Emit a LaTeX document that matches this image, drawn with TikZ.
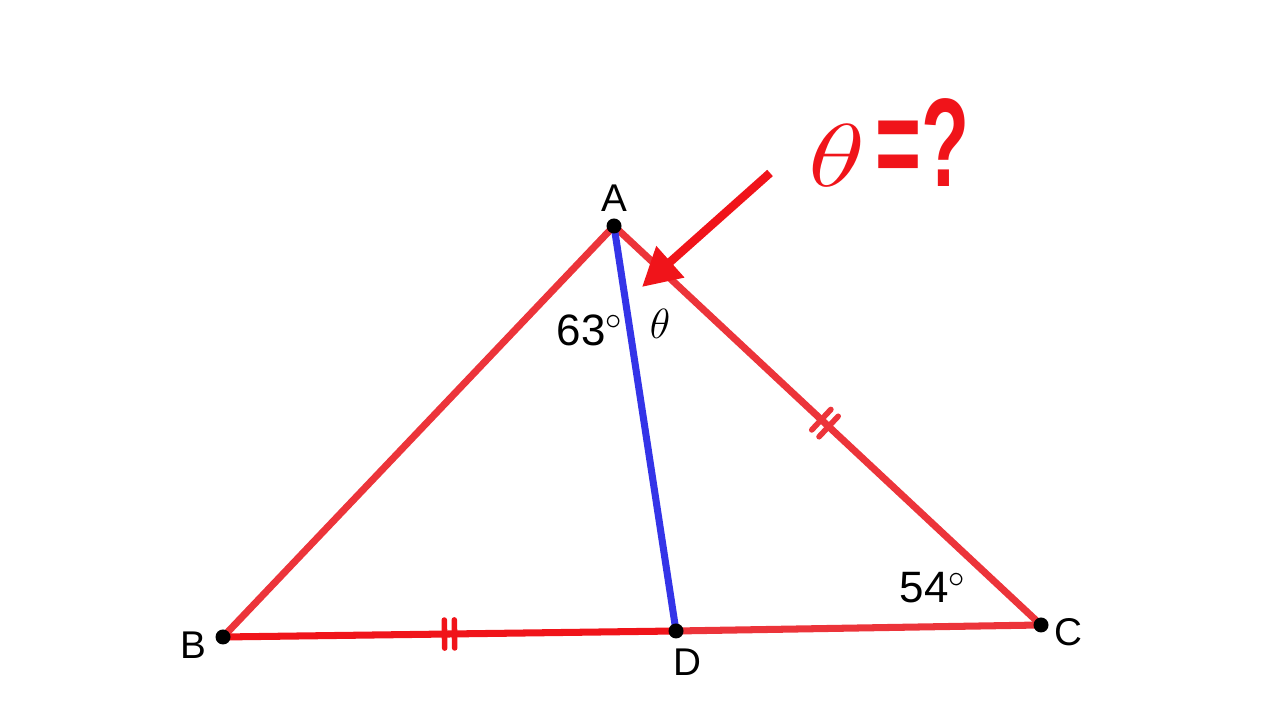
\documentclass[tikz,border=0pt]{standalone}
\usepackage{amsmath}
\usepackage{amssymb}
\usepackage{fontspec}
\setmainfont{Liberation Sans}
\usetikzlibrary{arrows.meta,decorations.markings,calc}

\definecolor{sidered}{RGB}{236,52,58}
\definecolor{basered}{RGB}{240,20,26}
\definecolor{cevblue}{RGB}{52,52,232}
\tikzset{
  pt/.style={circle,fill=black,inner sep=0pt,minimum size=0.15cm},
  lbl/.style={font=\fontsize{11}{13}\selectfont},
  ang/.style={font=\fontsize{12.5}{14}\selectfont},
  twoticks/.style={postaction={decorate,decoration={markings,
      mark=at position #1 with {\draw[line width=1.6pt,line cap=round] (-0.05,-0.14) -- (-0.05,0.14)
        (0.05,-0.14) -- (0.05,0.14);}}}}
}

\begin{document}
\begin{tikzpicture}[>=stealth]
          \useasboundingbox (0,0) rectangle (12.8,7.2);

          \coordinate (A) at (6.14,4.94);
          \coordinate (B) at (2.23,0.83);
          \coordinate (C) at (10.41,0.95);
          \coordinate (D) at (6.76,0.89);

          \draw[sidered,line width=2pt] (B) -- (A);
          \draw[sidered,line width=2pt,twoticks=0.494] (A) -- (C);
          \draw[sidered,line width=2pt] (D) -- (C);
          \draw[basered,line width=2pt,twoticks=0.5] (B) -- (D);
          \draw[cevblue,line width=2pt] (A) -- (D);

          \node[pt] (pA) at (A) {};
          \node[pt] (pB) at (B) {};
          \node[pt] (pC) at (C) {};
          \node[pt] (pD) at (D) {};

          \node[lbl] (lA) at (6.14,5.22) {A};
          \node[lbl] (lB) at (1.93,0.75) {B};
          \node[lbl] (lC) at (10.68,0.88) {C};
          \node[lbl] (lD) at (6.87,0.58) {D};

          \node[ang] (aBAD) at (5.90,3.90) {63$^\circ$};
          \node[ang] (aDAC) at (6.60,3.96) {$\theta$};
          \node[ang] (aACB) at (9.33,1.32) {54$^\circ$};

          \coordinate (tail) at (7.70,5.47);
          \coordinate (tip) at (6.42,4.33);
          \draw[basered,line width=2.4pt,-{Triangle[length=0.38cm,width=0.4cm]}] (tail) -- (tip);

          \node[basered,anchor=west,inner sep=0pt] (ask) at (8.08,5.77)
            {\fontsize{37}{40}\selectfont\scalebox{1.35}[1.02]{$\theta$}\hspace{0.1cm}\fontsize{32}{36}\selectfont\bfseries\scalebox{0.7}[1.12]{=?}};
        \end{tikzpicture}
\end{document}
